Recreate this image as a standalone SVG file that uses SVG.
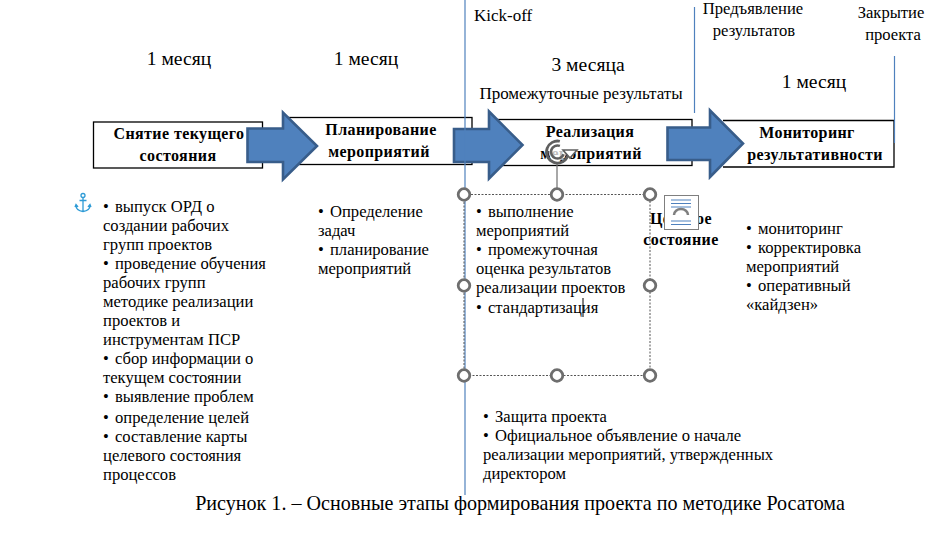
<svg xmlns="http://www.w3.org/2000/svg" width="948" height="555" viewBox="0 0 948 555">
<style>
text{font-family:"Liberation Serif","Times New Roman",serif;fill:#000}
.t{font-size:16.6px}
.k{font-size:17px}
.m{font-size:19.6px}
.h{font-size:16px;font-weight:bold;text-anchor:middle;letter-spacing:.4px}
.c{text-anchor:middle}
.box{fill:#fff;stroke:#000;stroke-width:1.3}
.arr{fill:#4f81bd;stroke:#385d8a;stroke-width:2.6}
.ln{stroke:#4f81bd;stroke-width:1.2;fill:none}
.hd{fill:#fff;stroke:#6e6e6e;stroke-width:2.8}
.sel{fill:none;stroke:#555;stroke-width:1;stroke-dasharray:2 1.5}
</style>
<rect width="948" height="555" fill="#fff"/>
<g id="node-snyatie"><rect class="box" x="93.500" y="122" width="169" height="46"/><text class="h" x="179" y="139">Снятие текущего</text><text class="h" x="178" y="161">состояния</text></g>
<g id="node-planirovanie"><rect class="box" x="283" y="117.500" width="189" height="47"/><text class="h" x="381" y="135">Планирование</text><text class="h" x="379" y="157">мероприятий</text></g>
<g id="node-realizatsiya"><rect class="box" x="490" y="119.500" width="202" height="46"/><text class="h" x="590" y="137">Реализация</text><text class="h" x="591" y="159">мероприятий</text></g>
<g id="node-monitoring"><path class="box" d="M723 120.500H894V167H723"/><text class="h" x="807" y="138">Мониторинг</text><text class="h" x="815" y="160">результативности</text></g>
<g id="connectors">
<path class="arr" d="M247.500 128.500H283V112.500L317 146L283 179.500V162H247.500Z"/>
<path class="arr" d="M454 129H489V111.500L522.500 145L489 178.500V162H454Z"/>
<path class="arr" d="M667.500 127.500H710V110.500L743 143.500L710 177V160H667.500Z"/>
<path class="ln" d="M465 0V495"/>
<path class="ln" d="M694.500 7V113"/>
<path class="ln" d="M894.500 56V143"/>
</g>
<g id="labels-top">
<text class="m c" x="179" y="65">1 месяц</text>
<text class="m c" x="366" y="65">1 месяц</text>
<text class="m c" x="588" y="71">3 месяца</text>
<text class="m c" x="814" y="88">1 месяц</text>
<text class="k" x="474" y="21">Kick-off</text>
<text class="t c" x="753" y="14">Предъявление</text>
<text class="t c" x="754" y="36">результатов</text>
<text class="t c" x="891" y="18">Закрытие</text>
<text class="t c" x="893" y="40">проекта</text>
<text class="k c" x="581" y="99">Промежуточные результаты</text>
</g>
<g id="list-1" class="t">
<text x="103" y="212">• <tspan dx="2">выпуск ОРД о</tspan></text>
<text x="103" y="231">создании рабочих</text>
<text x="103" y="250">групп проектов</text>
<text x="103" y="269">• <tspan dx="2">проведение обучения</tspan></text>
<text x="103" y="288">рабочих групп</text>
<text x="103" y="307">методике реализации</text>
<text x="103" y="326">проектов и</text>
<text x="103" y="345">инструментам ПСР</text>
<text x="103" y="364">• <tspan dx="2">сбор информации о</tspan></text>
<text x="103" y="383">текущем состоянии</text>
<text x="103" y="402">• <tspan dx="2">выявление проблем</tspan></text>
<text x="103" y="423">• <tspan dx="2">определение целей</tspan></text>
<text x="103" y="442">• <tspan dx="2">составление карты</tspan></text>
<text x="103" y="461">целевого состояния</text>
<text x="103" y="480">процессов</text>
</g>
<g id="list-2" class="t">
<text x="318" y="217">• <tspan dx="2">Определение</tspan></text>
<text x="318" y="236">задач</text>
<text x="318" y="255">• <tspan dx="2">планирование</tspan></text>
<text x="318" y="274">мероприятий</text>
</g>
<g id="list-3" class="t">
<text x="476" y="217">• <tspan dx="2">выполнение</tspan></text>
<text x="476" y="236">мероприятий</text>
<text x="476" y="255">• <tspan dx="2">промежуточная</tspan></text>
<text x="476" y="274">оценка результатов</text>
<text x="476" y="293">реализации проектов</text>
<text x="476" y="313">• <tspan dx="2">стандартизация</tspan></text>
</g>
<g id="list-4" class="t">
<text x="746" y="234">• <tspan dx="2">мониторинг</tspan></text>
<text x="746" y="253">• <tspan dx="2">корректировка</tspan></text>
<text x="746" y="272">мероприятий</text>
<text x="746" y="291">• <tspan dx="2">оперативный</tspan></text>
<text x="746" y="310">«кайдзен»</text>
</g>
<g id="list-5" class="t">
<text x="483" y="422">• <tspan dx="2">Защита проекта</tspan></text>
<text x="483" y="441">• <tspan dx="2">Официальное объявление о начале</tspan></text>
<text x="483" y="460">реализации мероприятий, утвержденных</text>
<text x="483" y="479">директором</text>
</g>
<g id="label-target"><text class="h" x="681" y="224">Целевое</text><text class="h" x="681" y="245">состояние</text></g>
<text x="520" y="510" font-size="20.100" text-anchor="middle" id="caption">Рисунок 1. – Основные этапы формирования проекта по методике Росатома</text>
<g id="selection">
<rect class="sel" x="464" y="194.500" width="186" height="181"/>
<path d="M557 164V188" stroke="#6e6e6e" stroke-width="1.200" fill="none"/>
<circle class="hd" cx="464" cy="194.500" r="5.800"/><circle class="hd" cx="557" cy="194.500" r="5.800"/><circle class="hd" cx="650" cy="194.500" r="5.800"/>
<circle class="hd" cx="464" cy="285.500" r="5.800"/><circle class="hd" cx="650" cy="285.500" r="5.800"/>
<circle class="hd" cx="464" cy="375.500" r="5.800"/><circle class="hd" cx="557" cy="375.500" r="5.800"/><circle class="hd" cx="650" cy="375.500" r="5.800"/>
<circle cx="557.500" cy="152" r="9" fill="#fff" opacity=".75"/>
<circle cx="557.500" cy="152" r="11" fill="none" stroke="#5f5f5f" stroke-width="2.800" stroke-dasharray="50 19" transform="rotate(20 557.500 152)"/>
<circle cx="557.500" cy="152" r="6.500" fill="none" stroke="#5f5f5f" stroke-width="2.600" stroke-dasharray="30 11" transform="rotate(20 557.500 152)"/>
<path d="M563 150H577L570 158Z" fill="#fff" stroke="#5f5f5f" stroke-width="1.600"/>
<path d="M583 298V317" stroke="#000" stroke-width="1"/>
</g>
<g id="layout-icon">
<rect x="664.500" y="195.500" width="34" height="34" fill="#fff" stroke="#7f7f7f" stroke-width="1"/>
<path d="M671 200H691M671 203.500H691M671 207H691M671 221H691M671 224.500H691" stroke="#4f81bd" stroke-width="1" fill="none"/>
<path d="M674 215A7 6 0 0 1 688 215" fill="none" stroke="#7f7f7f" stroke-width="2.500"/>
</g>
<g id="anchor" fill="none" stroke="#2e9bd6" stroke-width="1.300">
<circle cx="83" cy="195.500" r="2"/>
<path d="M83 197.500V211M79.500 200.500H86.500M76 205.500C76 209 79 211 83 211.500C87 211 90 209 90 205.500M75 207L76 204.500L78 207M88 207L90 204.500L91 207"/>
</g>
</svg>
